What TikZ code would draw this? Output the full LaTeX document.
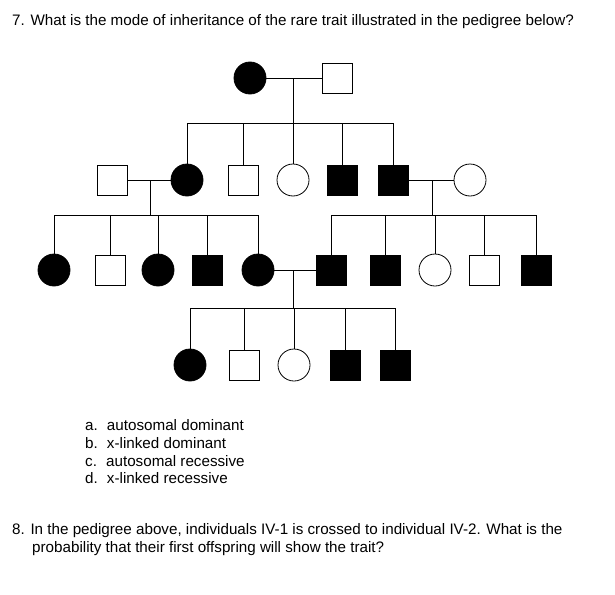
\documentclass[tikz,border=0pt]{standalone}
\usepackage{fontspec}
\setmainfont{Liberation Sans}
\begin{document}
\begin{tikzpicture}[x=1pt,y=-1pt,
 m/.style={draw,line width=0.8pt,minimum size=30pt,inner sep=0pt},
 f/.style={draw,circle,line width=0.8pt,minimum size=32pt,inner sep=0pt},
 aff/.style={fill=black},
 ln/.style={line width=0.6pt},
 txt/.style={anchor=west,inner sep=0pt,font=\fontsize{15.2}{17}\selectfont}]
\useasboundingbox (0,0) rectangle (615,594);
\node[txt] (q7) at (12,22) {7. What is the mode of inheritance of the rare trait illustrated in the pedigree below?};
\node[f,aff] (i1) at (250,78) {};
\node[m] (i2) at (337,78) {};
\node[m] (ii1) at (112,180) {};
\node[f,aff] (ii2) at (187,180) {};
\node[m] (ii3) at (243,180) {};
\node[f] (ii4) at (293,180) {};
\node[m,aff] (ii5) at (342,180) {};
\node[m,aff] (ii6) at (393,180) {};
\node[f] (ii7) at (470,180) {};
\node[f,aff] (iii1) at (54,270) {};
\node[m] (iii2) at (110,270) {};
\node[f,aff] (iii3) at (158,270) {};
\node[m,aff] (iii4) at (207,270) {};
\node[f,aff] (iii5) at (258,270) {};
\node[m,aff] (iii6) at (331,270) {};
\node[m,aff] (iii7) at (385,270) {};
\node[f] (iii8) at (435,270) {};
\node[m] (iii9) at (484,270) {};
\node[m,aff] (iii10) at (536,270) {};
\node[f,aff] (iv1) at (190,365) {};
\node[m] (iv2) at (244,365) {};
\node[f] (iv3) at (294,365) {};
\node[m,aff] (iv4) at (345,365) {};
\node[m,aff] (iv5) at (395,365) {};
\coordinate (c1) at (293,78);
\draw[ln] (i1) -- (i2);
\draw[ln] (c1) -- (293,123);
\draw[ln] (ii2.north |- 0,123) -- (ii6.north |- 0,123);
\foreach \n in {ii2,ii3,ii4,ii5,ii6} \draw[ln] (\n.north |- 0,123) -- (\n.north);
\draw[ln] (ii1) -- (ii2);
\draw[ln] (150,180) -- (150,215);
\draw[ln] (iii1.north |- 0,215) -- (iii5.north |- 0,215);
\foreach \n in {iii1,iii2,iii3,iii4,iii5} \draw[ln] (\n.north |- 0,215) -- (\n.north);
\draw[ln] (ii6) -- (ii7);
\draw[ln] (432,180) -- (432,215);
\draw[ln] (iii6.north |- 0,215) -- (iii10.north |- 0,215);
\foreach \n in {iii6,iii7,iii8,iii9,iii10} \draw[ln] (\n.north |- 0,215) -- (\n.north);
\draw[ln] (iii5) -- (iii6);
\draw[ln] (293,270) -- (293,308);
\draw[ln] (iv1.north |- 0,308) -- (iv5.north |- 0,308);
\foreach \n in {iv1,iv2,iv3,iv4,iv5} \draw[ln] (\n.north |- 0,308) -- (\n.north);
\node[txt] (a) at (85,425) {a.\hspace{0.6em}autosomal dominant};
\node[txt] (b) at (85,443) {b.\hspace{0.6em}x-linked dominant};
\node[txt] (c) at (85,461) {c.\hspace{0.6em}autosomal recessive};
\node[txt] (d) at (85,478) {d.\hspace{0.6em}x-linked recessive};
\node[txt] (q8a) at (12,531) {8. In the pedigree above, individuals IV-1 is crossed to individual IV-2. What is the};
\node[txt] (q8b) at (32,549) {probability that their first offspring will show the trait?};
\end{tikzpicture}
\end{document}
